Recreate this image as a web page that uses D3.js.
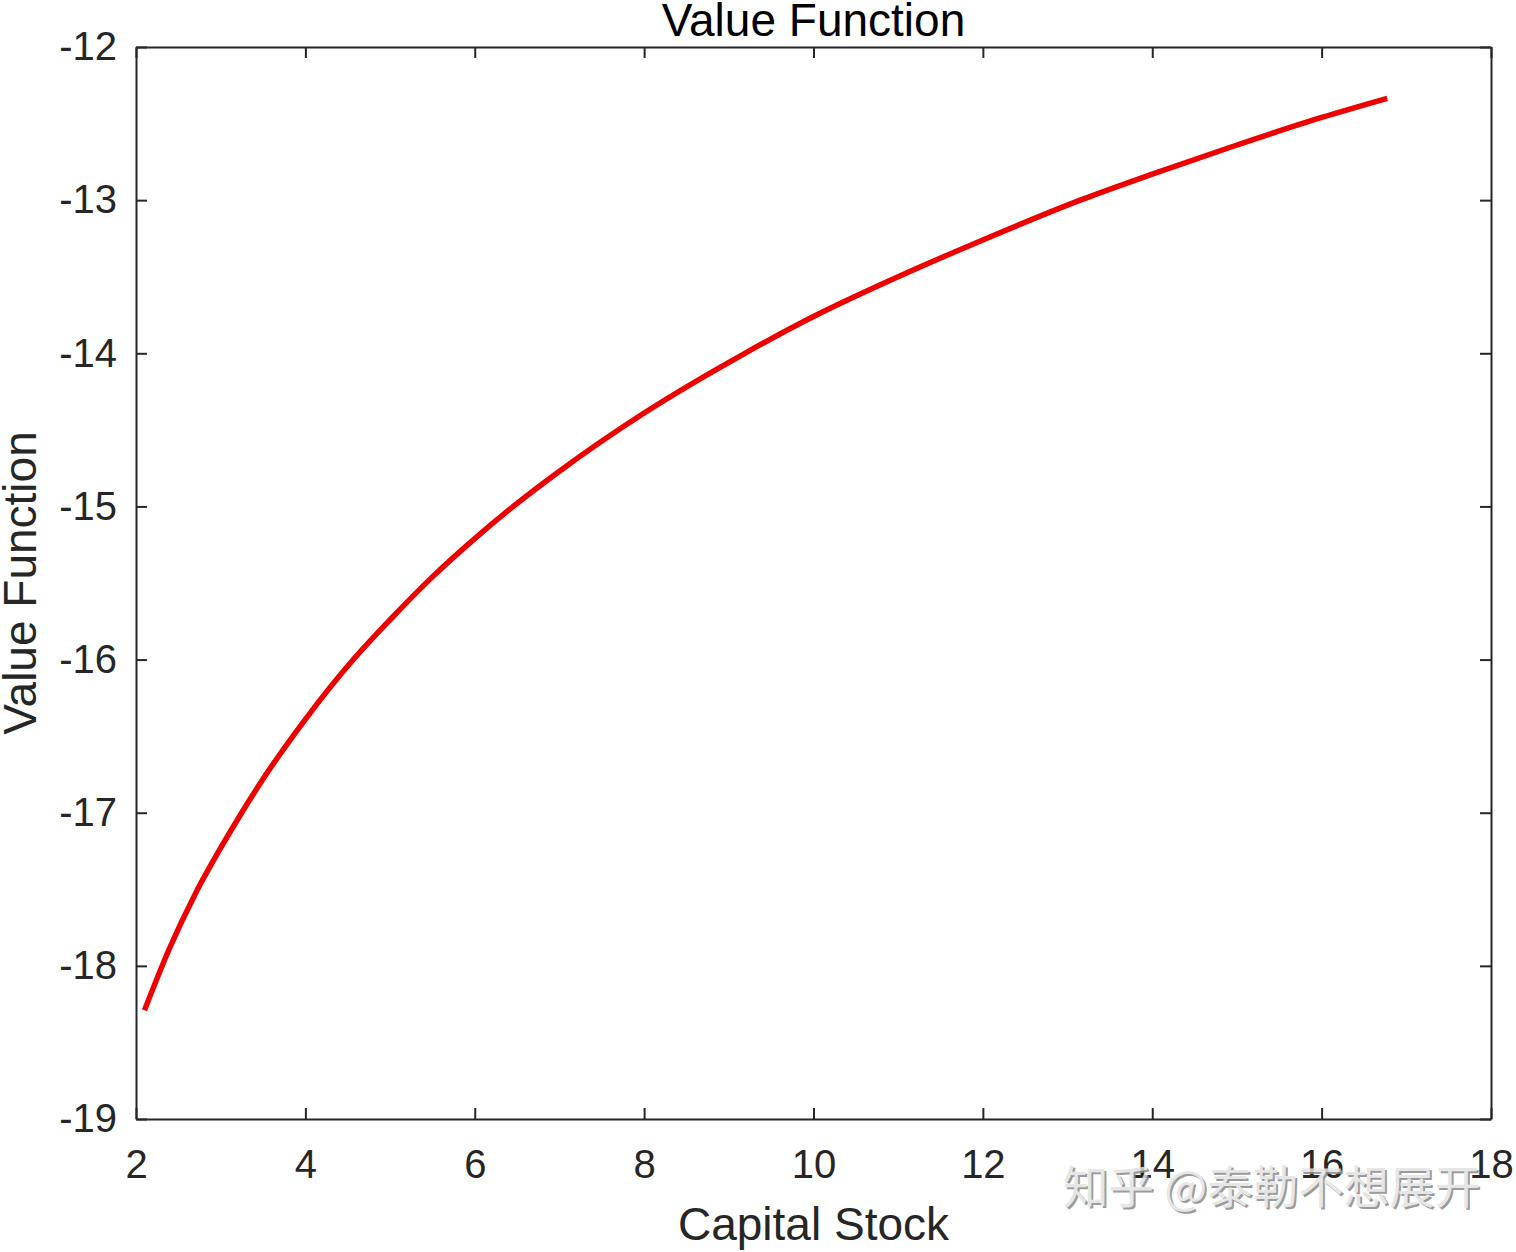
<!DOCTYPE html>
<html>
<head>
<meta charset="utf-8">
<script src="https://cdn.jsdelivr.net/npm/d3@7"></script>
<style>
  html, body { margin: 0; padding: 0; background: #fff; }
  svg { display: block; }
  text { font-family: "Liberation Sans", Arial, Helvetica, sans-serif; }
</style>
</head>
<body>
<svg id="chart" width="1516" height="1252"></svg>
<script>
// ---- data ----
const capitalStock = [2.1, 2.4, 2.7, 3.0, 3.248, 3.5, 4.0, 4.566, 5.0, 5.5, 6.0, 6.455, 7.0, 8.0, 9.19, 10, 11, 12, 13.15, 14, 15, 16, 16.775];
const valueFunction = [-18.29, -17.88, -17.53, -17.23, -17.0, -16.78, -16.39, -16.0, -15.74, -15.46, -15.21, -15.0, -14.77, -14.39, -14.0, -13.76, -13.50, -13.26, -13.0, -12.83, -12.64, -12.46, -12.335];
const xTicks = [2, 4, 6, 8, 10, 12, 14, 16, 18];
const yTicks = [-19, -18, -17, -16, -15, -14, -13, -12];
const titleText = "Value Function";
const xLabelText = "Capital Stock";
const yLabelText = "Value Function";
const watermarkText = "知乎 @泰勒不想展开";

const svg = d3.select("#chart");
const margin = { left: 136, right: 1491, top: 47, bottom: 1119 };
const axisColor = "#262626";

const x = d3.scaleLinear().domain([2, 18]).range([margin.left, margin.right]);
const y = d3.scaleLinear().domain([-19, -12]).range([margin.bottom, margin.top]);

// bottom axis
const gB = svg.append("g").attr("transform", `translate(0,${margin.bottom})`)
  .call(d3.axisBottom(x).tickValues(xTicks).tickFormat(d3.format("d")).tickSizeInner(-11).tickSizeOuter(0).tickPadding(31));
// left axis
const gL = svg.append("g").attr("transform", `translate(${margin.left},0)`)
  .call(d3.axisLeft(y).tickValues(yTicks).tickFormat(d => d3.format("d")(d).replace("−", "-")).tickSizeInner(-11).tickSizeOuter(0).tickPadding(19));
// top axis
const gT = svg.append("g").attr("transform", `translate(0,${margin.top})`)
  .call(d3.axisTop(x).tickValues(xTicks).tickFormat("").tickSizeInner(-11).tickSizeOuter(0));
// right axis
const gR = svg.append("g").attr("transform", `translate(${margin.right},0)`)
  .call(d3.axisRight(y).tickValues(yTicks).tickFormat("").tickSizeInner(-11).tickSizeOuter(0));

[gB, gL, gT, gR].forEach(g => {
  g.selectAll("path.domain").attr("stroke", axisColor).attr("stroke-width", 2);
  g.selectAll(".tick line").attr("stroke", axisColor).attr("stroke-width", 2);
  g.selectAll(".tick text").attr("fill", "#262626").attr("font-size", 40)
    .style("font-family", '"Liberation Sans", Arial, sans-serif');
});

// curve
const line = d3.line()
  .x((d, i) => x(capitalStock[i]))
  .y(d => y(d))
  .curve(d3.curveMonotoneX);

svg.append("path")
  .datum(valueFunction)
  .attr("d", line)
  .attr("fill", "none")
  .attr("stroke", "#ee0000")
  .attr("stroke-width", 5.5);

// title
svg.append("text")
  .attr("x", (margin.left + margin.right) / 2)
  .attr("y", 36)
  .attr("text-anchor", "middle")
  .attr("font-size", 46)
  .attr("fill", "#000")
  .text(titleText);

// x label
svg.append("text")
  .attr("x", (margin.left + margin.right) / 2)
  .attr("y", 1240)
  .attr("text-anchor", "middle")
  .attr("font-size", 46)
  .attr("fill", "#262626")
  .text(xLabelText);

// y label
svg.append("text")
  .attr("transform", `translate(36,${(margin.top + margin.bottom) / 2}) rotate(-90)`)
  .attr("text-anchor", "middle")
  .attr("font-size", 46)
  .attr("fill", "#262626")
  .text(yLabelText);

// watermark
const wm = svg.append("g").attr("opacity", 0.85);
wm.append("text")
  .attr("x", 1065).attr("y", 1206)
  .attr("font-size", 45.5)
  .style("font-family", '"Noto Sans CJK SC", sans-serif')
  .attr("fill", "#8a8a8a")
  .text(watermarkText);
wm.append("text")
  .attr("x", 1063).attr("y", 1204)
  .attr("font-size", 45.5)
  .style("font-family", '"Noto Sans CJK SC", sans-serif')
  .attr("fill", "#e2e2e2")
  .text(watermarkText);
</script>
</body>
</html>
